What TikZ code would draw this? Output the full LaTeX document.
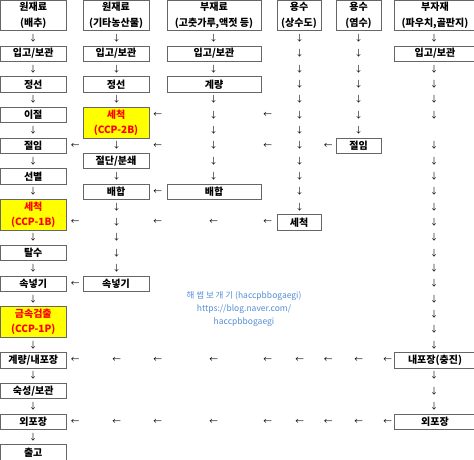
\documentclass[tikz,border=0pt]{standalone}
\usepackage{fontspec}
\setmainfont{Noto Sans CJK KR}
\definecolor{ccpyellow}{RGB}{255,255,0}
\definecolor{ccpred}{RGB}{255,0,0}
\definecolor{blogblue}{RGB}{84,141,212}
\tikzset{
  box/.style={draw=black!60, line width=0.7pt, inner sep=0pt, minimum height=15.33pt,
    font=\fontsize{10}{15.33}\selectfont\bfseries},
  twobox/.style={box, minimum height=30.67pt, align=center},
  ccpbox/.style={twobox, fill=ccpyellow, text=ccpred},
  arr/.style={inner sep=0pt, font=\fontsize{8.5}{8.5}\selectfont},
  wa/.style={minimum width=65.5pt}, wb/.style={minimum width=66pt},
  wc/.style={minimum width=94pt}, wd/.style={minimum width=44pt},
  we/.style={minimum width=45pt}, wf/.style={minimum width=82pt}
}
\begin{document}
\begin{tikzpicture}[x=1pt,y=-15.333pt]
\useasboundingbox (0,0) rectangle (474,30);
\clip (0,0) rectangle (474,30);
% headers
\node[twobox,wa] (hA) at (33.25,1) {원재료\\(배추)};
\node[twobox,wb] (hB) at (116,1) {원재료\\(기타농산물)};
\node[twobox,wc] (hC) at (214,1) {부재료\\(고춧가루,액젓 등)};
\node[twobox,wd] (hD) at (299,1) {용수\\(상수도)};
\node[twobox,we] (hE) at (358.5,1) {용수\\(염수)};
\node[twobox,wf] (hF) at (435,1) {부자재\\(파우치,골판지)};
% boxes
\node[box,wa] (A3) at (33.25,3.5) {입고/보관};
\node[box,wb] (B3) at (116,3.5) {입고/보관};
\node[box,wc] (C3) at (214,3.5) {입고/보관};
\node[box,wf] (F3) at (435,3.5) {입고/보관};
\node[box,wa] (A5) at (33.25,5.5) {정선};
\node[box,wb] (B5) at (116,5.5) {정선};
\node[box,wc] (C5) at (214,5.5) {계량};
\node[box,wa] (A7) at (33.25,7.5) {이절};
\node[ccpbox,wb] (B7) at (116,8) {세척\\(CCP-2B)};
\node[box,wa] (A9) at (33.25,9.5) {절임};
\node[box,we] (E9) at (358.5,9.5) {절임};
\node[box,wb] (B10) at (116,10.5) {절단/분쇄};
\node[box,wa] (A11) at (33.25,11.5) {선별};
\node[box,wb] (B12) at (116,12.5) {배합};
\node[box,wc] (C12) at (214,12.5) {배합};
\node[ccpbox,wa] (A13) at (33.25,14) {세척\\(CCP-1B)};
\node[box,wd] (D14) at (299,14.5) {세척};
\node[box,wa] (A16) at (33.25,16.5) {탈수};
\node[box,wa] (A18) at (33.25,18.5) {속넣기};
\node[box,wb] (B18) at (116,18.5) {속넣기};
\node[ccpbox,wa] (A20) at (33.25,21) {금속검출\\(CCP-1P)};
\node[box,wa] (A23) at (33.25,23.5) {계량/내포장};
\node[box,wf] (F23) at (435,23.5) {내포장(충진)};
\node[box,wa] (A25) at (33.25,25.5) {숙성/보관};
\node[box,wa] (A27) at (33.25,27.5) {외포장};
\node[box,wf] (F27) at (435,27.5) {외포장};
\node[box,wa] (A29) at (33.25,29.5) {출고};
% down arrows, column by column
\node[arr] (dA2) at (33,2.5) {↓}; \node[arr] (dA4) at (33,4.5) {↓}; \node[arr] (dA6) at (33,6.5) {↓};
\node[arr] (dA8) at (33,8.5) {↓}; \node[arr] (dA10) at (33,10.5) {↓}; \node[arr] (dA12) at (33,12.5) {↓};
\node[arr] (dA15) at (33,15.5) {↓}; \node[arr] (dA17) at (33,17.5) {↓}; \node[arr] (dA19) at (33,19.5) {↓};
\node[arr] (dA22) at (33,22.5) {↓}; \node[arr] (dA24) at (33,24.5) {↓}; \node[arr] (dA26) at (33,26.5) {↓};
\node[arr] (dA28) at (33,28.5) {↓};
\node[arr] (dB2) at (116.5,2.5) {↓}; \node[arr] (dB4) at (116.5,4.5) {↓}; \node[arr] (dB6) at (116.5,6.5) {↓};
\node[arr] (dB9) at (116.5,9.5) {↓}; \node[arr] (dB11) at (116.5,11.5) {↓}; \node[arr] (dB13) at (116.5,13.5) {↓};
\node[arr] (dB14) at (116.5,14.5) {↓}; \node[arr] (dB15) at (116.5,15.5) {↓}; \node[arr] (dB16) at (116.5,16.5) {↓};
\node[arr] (dB17) at (116.5,17.5) {↓};
\node[arr] (dC2) at (213.5,2.5) {↓}; \node[arr] (dC4) at (213.5,4.5) {↓}; \node[arr] (dC6) at (213.5,6.5) {↓};
\node[arr] (dC7) at (213.5,7.5) {↓}; \node[arr] (dC8) at (213.5,8.5) {↓}; \node[arr] (dC9) at (213.5,9.5) {↓};
\node[arr] (dC10) at (213.5,10.5) {↓}; \node[arr] (dC11) at (213.5,11.5) {↓};
\node[arr] (dD2) at (299.5,2.5) {↓}; \node[arr] (dD3) at (299.5,3.5) {↓}; \node[arr] (dD4) at (299.5,4.5) {↓};
\node[arr] (dD5) at (299.5,5.5) {↓}; \node[arr] (dD6) at (299.5,6.5) {↓}; \node[arr] (dD7) at (299.5,7.5) {↓};
\node[arr] (dD8) at (299.5,8.5) {↓}; \node[arr] (dD9) at (299.5,9.5) {↓}; \node[arr] (dD10) at (299.5,10.5) {↓};
\node[arr] (dD11) at (299.5,11.5) {↓}; \node[arr] (dD12) at (299.5,12.5) {↓}; \node[arr] (dD13) at (299.5,13.5) {↓};
\node[arr] (dE2) at (358.5,2.5) {↓}; \node[arr] (dE3) at (358.5,3.5) {↓}; \node[arr] (dE4) at (358.5,4.5) {↓};
\node[arr] (dE5) at (358.5,5.5) {↓}; \node[arr] (dE6) at (358.5,6.5) {↓}; \node[arr] (dE7) at (358.5,7.5) {↓};
\node[arr] (dE8) at (358.5,8.5) {↓};
\node[arr] (dF2) at (434,2.5) {↓}; \node[arr] (dF4) at (434,4.5) {↓}; \node[arr] (dF5) at (434,5.5) {↓};
\node[arr] (dF6) at (434,6.5) {↓}; \node[arr] (dF7) at (434,7.5) {↓}; \node[arr] (dF9) at (434,9.5) {↓};
\node[arr] (dF10) at (434,10.5) {↓}; \node[arr] (dF11) at (434,11.5) {↓}; \node[arr] (dF12) at (434,12.5) {↓};
\node[arr] (dF13) at (434,13.5) {↓}; \node[arr] (dF14) at (434,14.5) {↓}; \node[arr] (dF15) at (434,15.5) {↓};
\node[arr] (dF16) at (434,16.5) {↓}; \node[arr] (dF17) at (434,17.5) {↓}; \node[arr] (dF18) at (434,18.5) {↓};
\node[arr] (dF19) at (434,19.5) {↓}; \node[arr] (dF20) at (434,20.5) {↓}; \node[arr] (dF21) at (434,21.5) {↓};
\node[arr] (dF22) at (434,22.5) {↓}; \node[arr] (dF24) at (434,24.5) {↓}; \node[arr] (dF25) at (434,25.5) {↓};
\node[arr] (dF26) at (434,26.5) {↓};
% left arrows, row by row
\node[arr] (lBC7) at (157.5,7.5) {←}; \node[arr] (lCD7) at (267.5,7.5) {←};
\node[arr] (lAB9) at (75,9.5) {←}; \node[arr] (lBC9) at (157.5,9.5) {←};
\node[arr] (lCD9) at (267.5,9.5) {←}; \node[arr] (lDE9) at (328,9.5) {←};
\node[arr] (lBC12) at (157.5,12.5) {←};
\node[arr] (lAB14) at (75,14.5) {←}; \node[arr] (lBC14) at (157.5,14.5) {←};
\node[arr] (lC14) at (213.5,14.5) {←}; \node[arr] (lCD14) at (267.5,14.5) {←};
\node[arr] (lAB18) at (75,18.5) {←};
\node[arr] (lAB23) at (75,23.5) {←}; \node[arr] (lB23) at (116.5,23.5) {←}; \node[arr] (lBC23) at (157.5,23.5) {←};
\node[arr] (lC23) at (213.5,23.5) {←}; \node[arr] (lCD23) at (267.5,23.5) {←}; \node[arr] (lD23) at (299.5,23.5) {←};
\node[arr] (lDE23) at (328,23.5) {←}; \node[arr] (lE23) at (358.5,23.5) {←}; \node[arr] (lEF23) at (387.5,23.5) {←};
\node[arr] (lAB27) at (75,27.5) {←}; \node[arr] (lB27) at (116.5,27.5) {←}; \node[arr] (lBC27) at (157.5,27.5) {←};
\node[arr] (lC27) at (213.5,27.5) {←}; \node[arr] (lCD27) at (267.5,27.5) {←}; \node[arr] (lD27) at (299.5,27.5) {←};
\node[arr] (lDE27) at (328,27.5) {←}; \node[arr] (lE27) at (358.5,27.5) {←}; \node[arr] (lEF27) at (387.5,27.5) {←};
% blog mark
\node[inner sep=0pt, align=center, text=blogblue, font=\fontsize{8.5}{13}\selectfont] (blog) at (244,20.15)
  {해 썹 보 개 기 (haccpbbogaegi)\\https://blog.naver.com/\\haccpbbogaegi};
\end{tikzpicture}
\end{document}
